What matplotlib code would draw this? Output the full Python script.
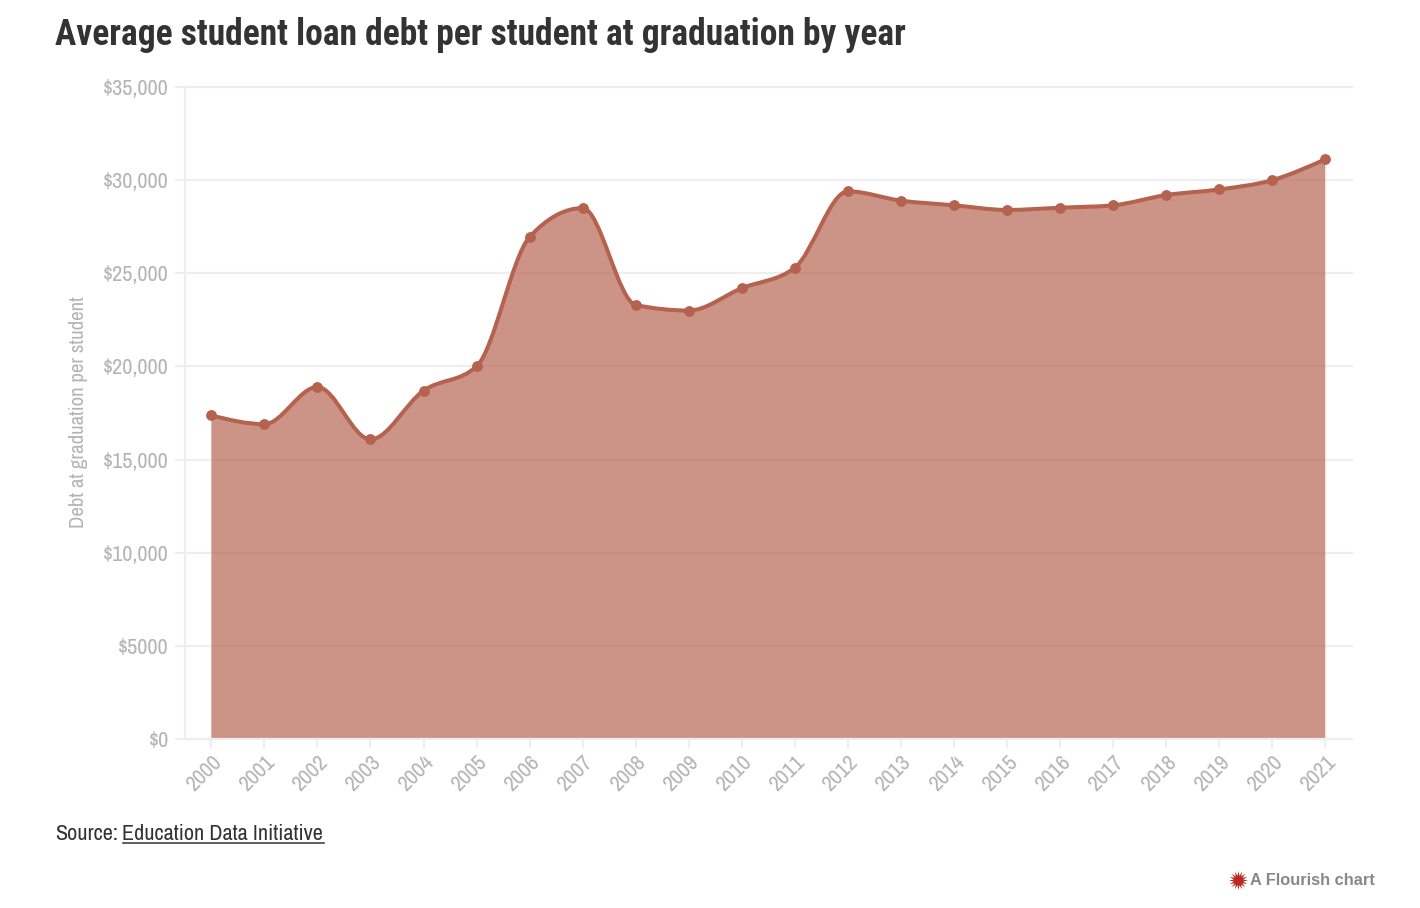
import numpy as np
import matplotlib
matplotlib.use("Agg")
import matplotlib.pyplot as plt
from matplotlib.path import Path
from matplotlib.patches import PathPatch
from matplotlib.lines import Line2D

years = list(range(2000, 2022))
debt = [17370, 16900, 18900, 16080, 18700, 20000, 26950, 28500, 23300, 23000, 24200,
        25300, 29400, 28900, 28650, 28400, 28520, 28650, 29200, 29500, 30000, 31120]
y_ticks = [0, 5000, 10000, 15000, 20000, 25000, 30000, 35000]
y_labels = ["$0", "$5000", "$10,000", "$15,000", "$20,000", "$25,000", "$30,000", "$35,000"]
title = "Average student loan debt per student at graduation by year"
y_title = "Debt at graduation per student"

W, H = 1420, 908
LINE = "#b5624f"
GRID = "#eeeeee"
TICK = "#b4b4b4"
DARK = "#333333"
TITLE_FONT = ["Roboto Condensed", "Roboto", "DejaVu Sans"]
BODY_FONT = ["Archivo Narrow", "Roboto Condensed", "Roboto", "DejaVu Sans"]


def monotone_path(xs, ys):
    """Monotone-X cubic segments through the data points."""
    xs = np.asarray(xs, float)
    ys = np.asarray(ys, float)
    h = np.diff(xs)
    s = np.diff(ys) / h
    t = np.zeros_like(ys)
    for i in range(1, len(ys) - 1):
        p = (s[i - 1] * h[i] + s[i] * h[i - 1]) / (h[i - 1] + h[i])
        t[i] = (np.sign(s[i - 1]) + np.sign(s[i])) * min(abs(s[i - 1]), abs(s[i]), 0.5 * abs(p))
    t[0] = (3 * s[0] - t[1]) / 2
    t[-1] = (3 * s[-1] - t[-2]) / 2
    verts = [(xs[0], ys[0])]
    codes = [Path.MOVETO]
    for i in range(len(xs) - 1):
        d = h[i] / 3
        verts += [(xs[i] + d, ys[i] + d * t[i]), (xs[i + 1] - d, ys[i + 1] - d * t[i + 1]), (xs[i + 1], ys[i + 1])]
        codes += [Path.CURVE4] * 3
    return verts, codes


fig = plt.figure(figsize=(W / 100, H / 100), dpi=100)
ax = fig.add_axes([184.8 / W, 1 - 739 / H, (1351.8 - 184.8) / W, (739 - 87) / H])
ax.set_xlim(years[0] - 0.5, years[-1] + 0.5)
ax.set_ylim(0, 35000)

verts, codes = monotone_path(years, debt)
area_v = verts + [(years[-1], 0), (years[0], 0), verts[0]]
area_c = codes + [Path.LINETO, Path.LINETO, Path.CLOSEPOLY]
ax.add_patch(PathPatch(Path(area_v, area_c), facecolor=LINE, alpha=0.68, edgecolor="none", zorder=2))
ax.add_patch(PathPatch(Path(verts, codes), facecolor="none", edgecolor=LINE, lw=2.9, zorder=3, clip_on=False))
ax.plot(years, debt, "o", color=LINE, ms=7.8, mew=0, zorder=4, clip_on=False)

ax.set_yticks(y_ticks)
ax.set_yticklabels(y_labels, fontfamily=BODY_FONT, fontsize=16, color=TICK)
ax.set_xticks(years)
ax.set_xticklabels(years, rotation=45, ha="right", rotation_mode="anchor",
                   fontfamily=BODY_FONT, fontsize=16, color=TICK)
ax.tick_params(axis="y", length=7.5, width=1.5, color=GRID, pad=4)
ax.tick_params(axis="x", length=6.5, width=1.5, color=GRID, pad=3)
ax.grid(axis="y", color=GRID, lw=1.6, zorder=1)
for gl in ax.get_ygridlines():
    gl.set_clip_on(False)
ax.set_axisbelow(True)
for side in ("top", "right"):
    ax.spines[side].set_visible(False)
for side in ("left", "bottom"):
    ax.spines[side].set_color(GRID)
    ax.spines[side].set_linewidth(1.6)

fig.text(78 / W, 1 - 412 / H, y_title, rotation=90, ha="center", va="center",
         fontfamily=BODY_FONT, fontsize=15, color=TICK)
fig.text(55 / W, 1 - 35 / H, title, ha="left", va="center", fontfamily=TITLE_FONT,
         fontweight="bold", fontsize=25.6, color=DARK)
fig.text(55 / W, 1 - 834 / H, "Source:", ha="left", va="center", fontfamily=BODY_FONT, fontsize=16, color=DARK)
fig.text(122.5 / W, 1 - 834 / H, "Education Data Initiative", ha="left", va="center",
         fontfamily=BODY_FONT, fontsize=16, color=DARK)
fig.add_artist(Line2D([122.5 / W, 324 / W], [1 - 843 / H] * 2, color=DARK, lw=1.1))

logo = fig.add_axes([0, 0, 1, 1], facecolor="none")
logo.set_axis_off()
logo.set_xlim(0, W)
logo.set_ylim(H, 0)
logo.scatter([1237.5], [880], marker=(16, 1, 0), s=190, color="#bb2a20", linewidths=0, zorder=5)
logo.text(1250, 880.5, "A Flourish chart", ha="left", va="center", fontfamily="Liberation Sans",
          fontweight="bold", fontsize=11.8, color="#888888")

fig.savefig("out.png", dpi=100, facecolor="white")
